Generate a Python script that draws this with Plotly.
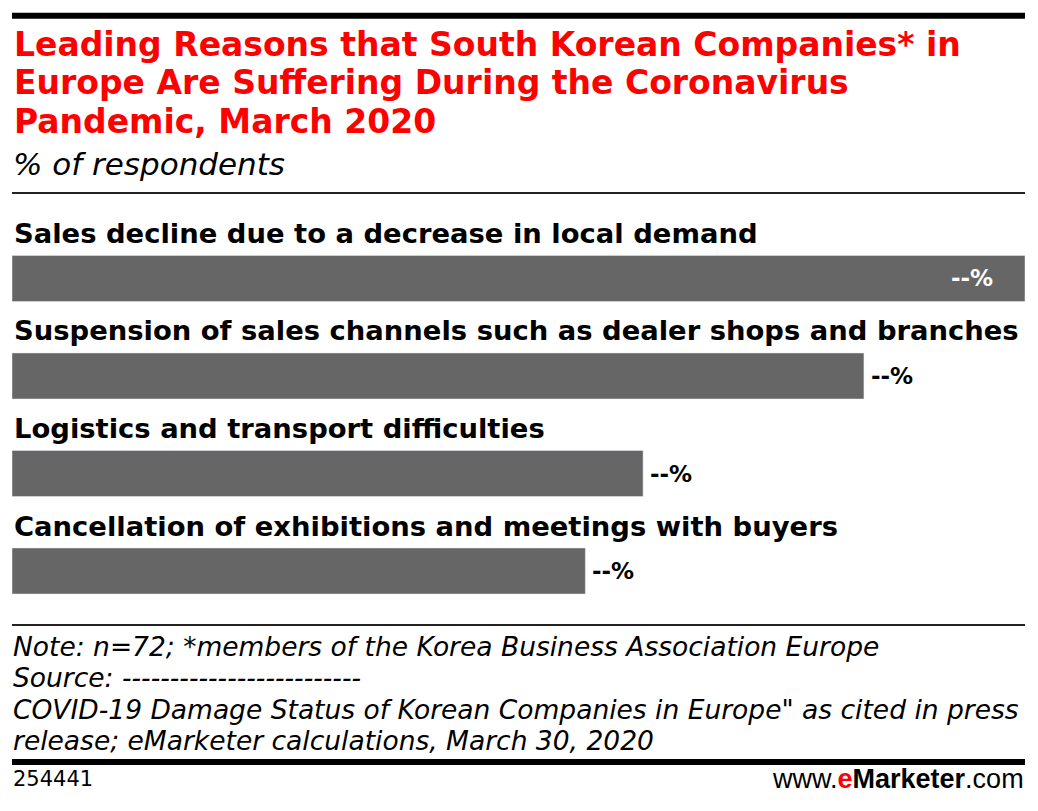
import plotly.graph_objects as go

categories = [
    "Sales decline due to a decrease in local demand",
    "Suspension of sales channels such as dealer shops and branches",
    "Logistics and transport difficulties",
    "Cancellation of exhibitions and meetings with buyers",
]
values = [100.0, 84.1, 62.3, 56.6]  # relative bar lengths
value_labels = ["--%", "--%", "--%", "--%"]

title_lines = [
    "Leading Reasons that South Korean Companies* in",
    "Europe Are Suffering During the Coronavirus",
    "Pandemic, March 2020",
]
subtitle = "% of respondents"
note_lines = [
    "Note: n=72; *members of the Korea Business Association Europe",
    "Source: -------------------------",
    "COVID-19 Damage Status of Korean Companies in Europe\" as cited in press",
    "release; eMarketer calculations, March 30, 2020",
]
chart_id = "254441"

OFF = 8  # page body margin
W, H = 1038 - OFF, 811 - OFF
# plot area in page pixel coordinates
PL, PR, PT, PB = 12, 1025, 200, 610
L, R, T, B = PL - OFF, PR - OFF, PT - OFF, PB - OFF


def px(x):
    return (x - PL) / (PR - PL)


def py(y):
    return (PB - y) / (PB - PT)


BOLD = "DejaVu Sans"
ypos = list(range(len(categories)))
fig = go.Figure()
fig.add_trace(go.Bar(
    x=values, y=ypos, orientation="h", marker_color="#666666",
    width=0.472, hoverinfo="skip",
))

ann = []
for i, line in enumerate(title_lines):
    ann.append(dict(x=px(12), y=py([44, 82.5, 121][i]), xref="paper", yref="paper",
                    text="<b>" + line + "</b>", showarrow=False, xanchor="left", yanchor="middle",
                    font=dict(family=BOLD, size=33, color="#ff0000")))
ann.append(dict(x=px(11), y=py(164), xref="paper", yref="paper", text=subtitle,
                showarrow=False, xanchor="left", yanchor="middle",
                font=dict(family="DejaVu Sans", size=31, color="#000000", style="italic")))

vmax = max(values)
for i, (c, v, lab) in enumerate(zip(categories, values, value_labels)):
    ann.append(dict(x=0, y=i, xref="x", yref="y", text="<b>" + c + "</b>", showarrow=False,
                    xanchor="left", yanchor="middle", yshift=45, xshift=0,
                    font=dict(family=BOLD, size=27.4, color="#000000")))
    inside = v == vmax
    ann.append(dict(x=v, y=i, xref="x", yref="y", text="<b>" + lab + "</b>", showarrow=False,
                    xanchor="right" if inside else "left", yanchor="middle",
                    xshift=-30 if inside else 5,
                    font=dict(family=BOLD, size=23,
                              color="#ffffff" if inside else "#000000")))

for i, line in enumerate(note_lines):
    ann.append(dict(x=px(11), y=py([646, 677, 709, 740][i]), xref="paper", yref="paper",
                    text=line, showarrow=False, xanchor="left", yanchor="middle",
                    font=dict(family="DejaVu Sans", size=26.5, color="#000000", style="italic")))
ann.append(dict(x=px(11), y=py(779), xref="paper", yref="paper", text=chart_id,
                showarrow=False, xanchor="left", yanchor="middle",
                font=dict(family="DejaVu Sans", size=21, color="#000000")))
ann.append(dict(x=px(1026), y=py(779), xref="paper", yref="paper",
                text="www.<b><span style='color:#ff0000'>e</span>Marketer</b>.com",
                showarrow=False, xanchor="right", yanchor="middle",
                font=dict(family="Liberation Sans", size=27, color="#000000")))

shapes = [
    dict(type="line", xref="paper", yref="paper", x0=px(12), x1=px(1025), y0=py(15.7), y1=py(15.7),
         line=dict(color="#000000", width=6)),
    dict(type="line", xref="paper", yref="paper", x0=px(12), x1=px(1025), y0=py(193), y1=py(193),
         line=dict(color="#222222", width=2)),
    dict(type="line", xref="paper", yref="paper", x0=px(12), x1=px(1025), y0=py(625), y1=py(625),
         line=dict(color="#222222", width=2)),
    dict(type="line", xref="paper", yref="paper", x0=px(12), x1=px(1025), y0=py(762), y1=py(762),
         line=dict(color="#000000", width=6)),
]

fig.update_layout(
    width=W, height=H, margin=dict(l=L, r=W - R, t=T, b=H - B),
    paper_bgcolor="#ffffff", plot_bgcolor="#ffffff", showlegend=False,
    xaxis=dict(range=[0, vmax], visible=False, fixedrange=True),
    yaxis=dict(range=[3.4, -0.805], visible=False, fixedrange=True),
    annotations=ann, shapes=shapes,
)
fig.write_html("out.html", config={"displayModeBar": False})
